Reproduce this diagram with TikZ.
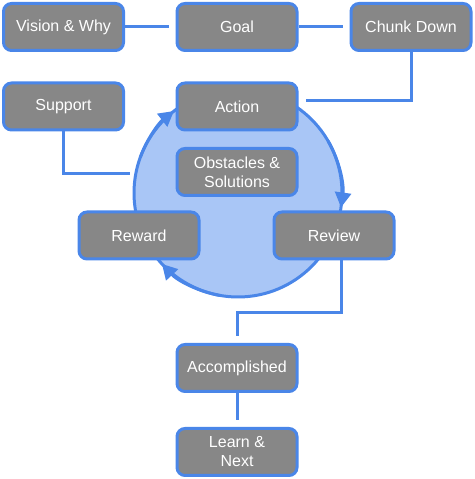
\documentclass[tikz,border=0pt]{standalone}
\usepackage{fontspec}
\setmainfont{Liberation Sans}
\usetikzlibrary{arrows.meta}
\definecolor{stagegrey}{HTML}{878787}
\definecolor{edgeblue}{HTML}{4A86E8}
\definecolor{loopblue}{HTML}{A9C6F6}
\begin{document}
\begin{tikzpicture}[x=1pt, y=1pt,
    stage/.style={draw=edgeblue, line width=3pt, fill=stagegrey, rounded corners=8pt,
      minimum width=120pt, minimum height=47pt, text=white, align=center,
      font=\fontsize{16}{19}\selectfont},
    link/.style={draw=edgeblue, line width=3pt, shorten >=7pt},
    turn/.style={draw=edgeblue, line width=3pt, -{Triangle[length=15pt, width=16pt]}}]
    \useasboundingbox (0, 0) rectangle (474, 479) ;
    \node[circle, draw=edgeblue, line width=3pt, fill=loopblue, minimum size=208pt,
      inner sep=0pt, outer sep=0pt] (cycle) at (238, 286) {} ;
    \node[stage] (vision) at (63.5, 452) {Vision \& Why} ;
    \node[stage] (goal) at (237, 452) {Goal} ;
    \node[stage] (chunk) at (411, 452) {Chunk Down} ;
    \node[stage] (support) at (63.5, 372.5) {Support} ;
    \node[stage] (action) at (237, 372.5) {Action} ;
    \node[stage] (obstacles) at (237, 307) {Obstacles \&\\Solutions} ;
    \node[stage] (reward) at (139, 243.5) {Reward} ;
    \node[stage] (review) at (334, 243.5) {Review} ;
    \node[stage] (accomplished) at (237, 111) {Accomplished} ;
    \node[stage] (learn) at (237, 27) {Learn \&\\Next} ;
    \draw[link] (vision) -- (goal) ;
    \draw[link] (goal) -- (chunk) ;
    \draw[link] (chunk.south) |- ([yshift=6pt]action.east) ;
    \draw[link, shorten >=6pt] (support.south) |- (cycle.169) ;
    \draw[link] ([xshift=7pt]review.south) -- ++(0, -52) -| (accomplished.north) ;
    \draw[link] (accomplished) -- (learn) ;
    \draw[turn] (cycle.160) arc[start angle=160, end angle=128, radius=104pt] ;
    \draw[turn] (cycle.30) arc[start angle=30, end angle=-8, radius=104pt] ;
    \draw[turn] (cycle.260) arc[start angle=260, end angle=223, radius=104pt] ;
  \end{tikzpicture}
\end{document}
